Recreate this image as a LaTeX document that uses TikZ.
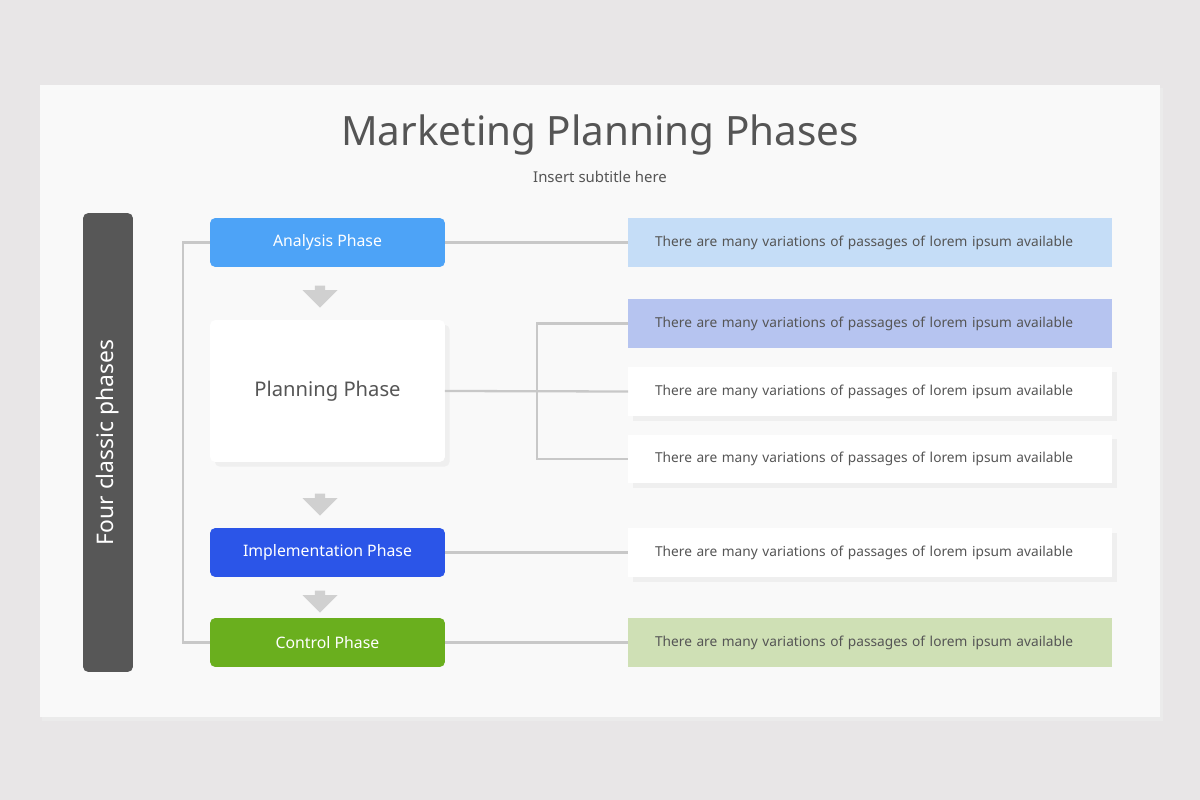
\documentclass[tikz,border=0pt]{standalone}
\usepackage{fontspec}
\setmainfont{Noto Sans}
\usetikzlibrary{positioning,shapes.arrows,shadows}
\definecolor{pageback}{HTML}{E8E6E7}
\definecolor{cardback}{HTML}{F9F9F9}
\definecolor{darkbar}{HTML}{575757}
\definecolor{analysisblue}{HTML}{4DA3F7}
\definecolor{implblue}{HTML}{2B55E8}
\definecolor{controlgreen}{HTML}{6AAF1E}
\definecolor{descblue}{HTML}{C5DDF7}
\definecolor{descviolet}{HTML}{B6C4F0}
\definecolor{descgreen}{HTML}{CFE0B5}
\definecolor{textgray}{HTML}{555555}
\definecolor{linegray}{HTML}{C8C8C8}
\tikzset{
  phase/.style={rounded corners=3pt, minimum width=4.7cm, minimum height=0.98cm, font=\bfseries\fontsize{9}{11}\selectfont, text=white, outer sep=0pt},
  desc/.style={minimum width=9.68cm, minimum height=0.98cm, inner sep=0pt, text width=8.6cm, align=left, font=\fontsize{7.8}{9}\selectfont, text=textgray, outer sep=0pt},
  link/.style={linegray, line width=1.3pt},
  downarrow/.style={single arrow, shape border rotate=270, fill=linegray!85!white, minimum height=0.44cm, minimum width=0.7cm, single arrow head extend=0.1cm, inner sep=1pt}
}
\begin{document}
\begin{tikzpicture}[x=0.02cm, y=-0.02cm]
\fill[pageback] (0,0) rectangle (1200,800);
\fill[black!8] (42,88) rectangle (1163,721);
\fill[cardback] (40,85) rectangle (1160,717);
\useasboundingbox (0,0) rectangle (1200,800);

\node[text=textgray, font=\fontsize{23}{26}\selectfont] (title) at (600,135) {Marketing Planning Phases};
\node[text=textgray, font=\fontsize{8.5}{10}\selectfont] (subtitle) at (600,177) {Insert subtitle here};

\node[fill=darkbar, rounded corners=3pt, minimum width=9.18cm, minimum height=1cm, rotate=90, text=white, font=\bfseries\fontsize{13}{15}\selectfont] (bar) at (108,442.5) {Four classic phases};

% phases
\node[phase, fill=analysisblue] (analysis) at (327.5,242.5) {Analysis Phase};
\node[phase, fill=white, minimum height=2.84cm, text=textgray, font=\bfseries\fontsize{11.5}{13}\selectfont, drop shadow={opacity=0.08}] (planning) at (327.5,391) {Planning Phase};
\node[phase, fill=implblue] (impl) at (327.5,552.5) {Implementation Phase};
\node[phase, fill=controlgreen] (control) at (327.5,642.5) {Control Phase};

\node[downarrow] (arrowa) at (320,294) {};
\node[downarrow] (arrowb) at (320,502) {};
\node[downarrow] (arrowc) at (320,599) {};

% descriptions
\node[desc, fill=descblue] (d1) at (870,242.5) {There are many variations of passages of lorem ipsum available};
\node[desc, fill=descviolet] (d2) at (870,323.5) {There are many variations of passages of lorem ipsum available};
\node[desc, fill=white, drop shadow={opacity=0.08}] (d3) at (870,391.5) {There are many variations of passages of lorem ipsum available};
\node[desc, fill=white, drop shadow={opacity=0.08}] (d4) at (870,459) {There are many variations of passages of lorem ipsum available};
\node[desc, fill=white, drop shadow={opacity=0.08}] (d5) at (870,552.5) {There are many variations of passages of lorem ipsum available};
\node[desc, fill=descgreen] (d6) at (870,642.5) {There are many variations of passages of lorem ipsum available};

% connectors
\coordinate (fork) at (537,391);
\draw[link] (analysis.west) -| (183,642.5) -- (control.west);
\draw[link] (analysis.east) -- (d1.west);
\draw[link] (planning.east) -- (d3.west);
\draw[link] (d2.west) -| (fork) |- (d4.west);
\draw[link] (impl.east) -- (d5.west);
\draw[link] (control.east) -- (d6.west);
\end{tikzpicture}
\end{document}
